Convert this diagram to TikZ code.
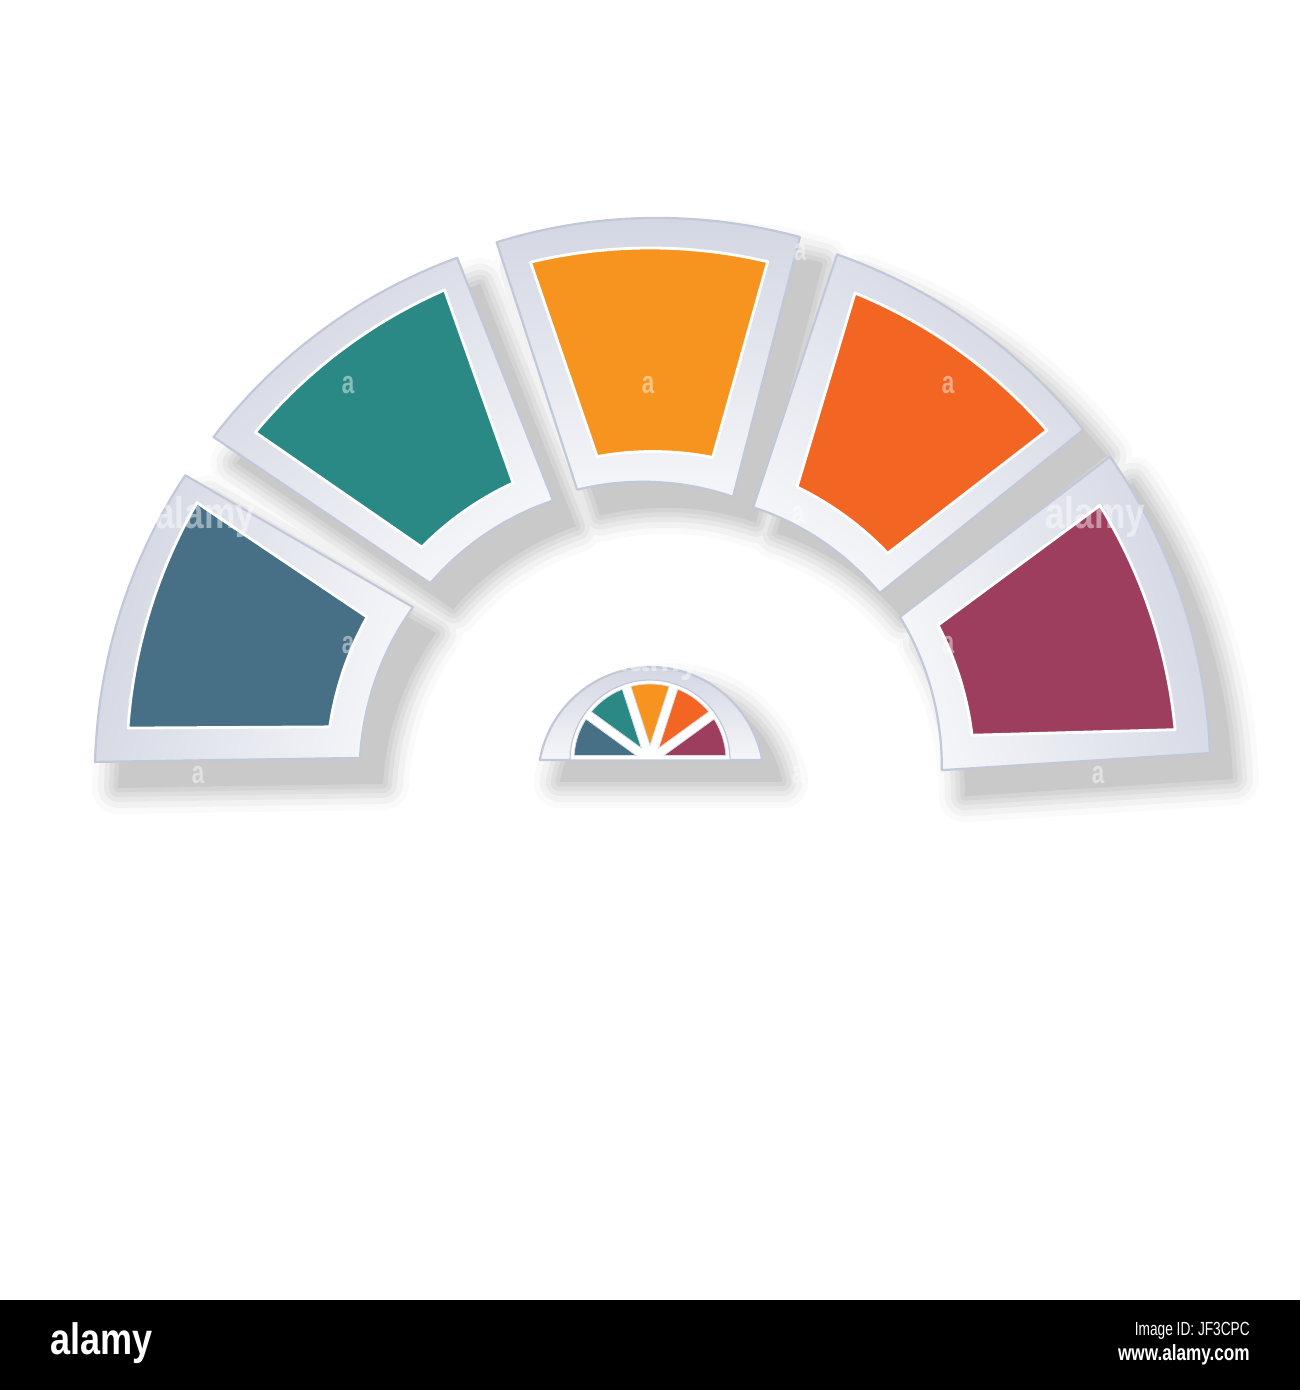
\documentclass[tikz,border=0pt]{standalone}
\usepackage{fontspec}
\setmainfont{Liberation Sans}
\definecolor{cBlue}{HTML}{476F86}
\definecolor{cTeal}{HTML}{2A8984}
\definecolor{cYel}{HTML}{F6941F}
\definecolor{cOra}{HTML}{F36523}
\definecolor{cMar}{HTML}{9D3E5E}
\definecolor{frOut}{HTML}{D3D7E3}
\definecolor{frIn}{HTML}{F5F6F9}
\definecolor{frEdge}{HTML}{C2C8D8}
\tikzset{
  framebody/.style={draw=frEdge, line width=1.1pt, line join=round, top color=frOut, bottom color=frIn},
  colourbody/.style={draw=white, line width=1.4pt, line join=round},
  wmark/.style={text=white, text opacity=0.45, font=\bfseries\fontsize{16}{16}\selectfont, xscale=0.7, inner sep=0pt},
  wword/.style={text=white, text opacity=0.45, font=\bfseries\fontsize{22}{22}\selectfont, xscale=0.8, inner sep=0pt}
}
% polar outline: outer edge from (#1:#2) to (#3:#4), inner edge from (#5:#6) to (#7:#8)
\newcommand{\sectorpath}[8]{plot[domain=0:1,samples=40,variable=\pp] ({#1+(#3-#1)*\pp}:{#2+(#4-#2)*\pp}) -- plot[domain=0:1,samples=40,variable=\pp] ({#5+(#7-#5)*\pp}:{#6+(#8-#6)*\pp}) -- cycle}
\newcommand{\shadowpiece}[9]{%
  \begin{scope}[shift={(673,604)}]
    \path[line join=round,#9] \sectorpath{#1}{#2}{#3}{#4}{#5}{#6}{#7}{#8};
  \end{scope}}
\newcommand{\framepiece}[9]{%
  \begin{scope}[shift={(650,630)}]
    \path[framebody, shading angle=#9] \sectorpath{#1}{#2}{#3}{#4}{#5}{#6}{#7}{#8};
  \end{scope}}
\newcommand{\colourpiece}[9]{%
  \begin{scope}[shift={(650,630)}]
    \path[colourbody, fill=#9] \sectorpath{#1}{#2}{#3}{#4}{#5}{#6}{#7}{#8};
  \end{scope}}
% frame and colour data (angle/radius pairs, centre at image point 650,760)
\def\dBlueF{{180.2}{555}{148.5}{545}{147.2}{282}{179.6}{290}}
\def\dBlueC{{176.5}{523}{150.4}{521}{153.2}{317}{174.1}{322}}
\def\dTealF{{143.5}{543}{111.0}{538}{110.5}{277}{141.2}{282}}
\def\dTealC{{140.3}{513}{113.6}{513}{116.3}{309}{137.0}{312}}
\def\dYelF{{106.5}{540}{74.0}{544}{72.5}{276}{105.1}{280}}
\def\dYelC{{103.5}{512}{76.7}{512}{78.3}{309}{99.9}{308}}
\def\dOraF{{69.7}{539}{37.3}{545}{36.0}{284}{67.8}{273}}
\def\dOraC{{66.3}{510}{39.7}{516}{41.0}{315}{61.7}{310}}
\def\dMarF{{33.4}{551}{0.7}{560}{-2.0}{292}{29.8}{288}}
\def\dMarC{{29.5}{517}{3.3}{526}{4.4}{323}{25.1}{318}}
\newcommand{\shadowlayer}[1]{%
  \expandafter\shadowpiece\dBlueF{#1}%
  \expandafter\shadowpiece\dTealF{#1}%
  \expandafter\shadowpiece\dYelF{#1}%
  \expandafter\shadowpiece\dOraF{#1}%
  \expandafter\shadowpiece\dMarF{#1}%
  \begin{scope}[shift={(671,588)}]
    \path[line join=round,#1] plot[domain=10.2:169.8,samples=40,variable=\pp] (\pp:113) -- cycle;
  \end{scope}}
\begin{document}
\begin{tikzpicture}[x=0.5pt,y=0.5pt]
\useasboundingbox (0,0) rectangle (1300,1390);
\fill[white] (0,0) rectangle (1300,1390);
% soft shadows, built from the widest and lightest layer inwards
\shadowlayer{draw=black!2, line width=26pt}
\shadowlayer{draw=black!5, line width=20pt}
\shadowlayer{draw=black!9, line width=14pt}
\shadowlayer{draw=black!13, line width=9pt}
\shadowlayer{draw=black!17, line width=4.5pt}
\shadowlayer{fill=black!21}
% frames
\expandafter\framepiece\dBlueF{74}
\expandafter\framepiece\dTealF{37}
\expandafter\framepiece\dYelF{0}
\expandafter\framepiece\dOraF{-37}
\expandafter\framepiece\dMarF{-73}
% coloured panels
\expandafter\colourpiece\dBlueC{cBlue}
\expandafter\colourpiece\dTealC{cTeal}
\expandafter\colourpiece\dYelC{cYel}
\expandafter\colourpiece\dOraC{cOra}
\expandafter\colourpiece\dMarC{cMar}
% small icon
\begin{scope}[shift={(651,610)}]
  \path[framebody] plot[domain=10.2:169.8,samples=50,variable=\pp] (\pp:113) -- cycle;
\end{scope}
\begin{scope}[shift={(650,630)}]
  \path[fill=white, draw=frEdge, line width=0.6pt] plot[domain=0:180,samples=50,variable=\pp] (\pp:80) -- cycle;
  \foreach \cc/\col in {162/cBlue,126/cTeal,90/cYel,54/cOra,18/cMar}{
    \path[fill=\col, draw=frEdge!60, line width=0.4pt] (\cc:14.6) -- plot[domain={\cc+14.6}:{\cc-14.6},samples=20,variable=\pp] (\pp:76) -- cycle;
  }
\end{scope}
% watermark marks
\node[wmark] (wa1) at (348,1005) {a};
\node[wmark] (wa2) at (648,1005) {a};
\node[wmark] (wa3) at (948,1005) {a};
\node[wmark] (wa4) at (348,745) {a};
\node[wmark] (wa5) at (948,745) {a};
\node[wmark] (wa6) at (798,875) {a};
\node[wmark] (wa7) at (800,1138) {a};
\node[wmark] (wa8) at (198,615) {a};
\node[wmark] (wa9) at (1098,615) {a};
\node[wmark] (wa10) at (798,615) {a};
\node[wword] (ww1) at (205,873) {alamy};
\node[wword] (ww2) at (1095,873) {alamy};
\node[wword] (ww3) at (650,730) {alamy};
% banner
\fill[black] (0,0) rectangle (1300,90);
\node[anchor=base west, text=white, font=\bfseries\fontsize{22}{22}\selectfont, xscale=0.82, inner sep=0pt] (logo) at (50,35) {alamy};
\node[anchor=base east, text=white, font=\fontsize{9.5}{10}\selectfont, xscale=0.72, inner sep=0pt] (imgid) at (1250,54) {Image ID: JF3CPC};
\node[anchor=base east, text=white, font=\bfseries\fontsize{11}{12}\selectfont, xscale=0.78, inner sep=0pt] (url) at (1250,29) {www.alamy.com};
\end{tikzpicture}
\end{document}
